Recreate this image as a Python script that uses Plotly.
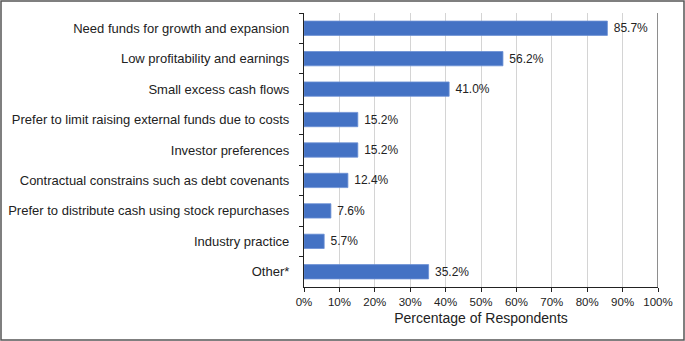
import plotly.graph_objects as go

categories = [
    "Need funds for growth and expansion",
    "Low profitability and earnings",
    "Small excess cash flows",
    "Prefer to limit raising external funds due to costs",
    "Investor preferences",
    "Contractual constrains such as debt covenants",
    "Prefer to distribute cash using stock repurchases",
    "Industry practice",
    "Other*",
]
values = [85.7, 56.2, 41.0, 15.2, 15.2, 12.4, 7.6, 5.7, 35.2]
labels = [f"\u00a0{v:.1f}%" for v in values]
x_ticks = list(range(0, 101, 10))
x_tick_text = [f"{t}%" for t in x_ticks]

W, H = 685, 341
L, R, T, B = 304, 27, 13, 54
pw, ph = W - L - R, H - T - B

fig = go.Figure(go.Bar(
    y=categories, x=values, orientation="h",
    marker=dict(color="#4472C4", line=dict(color="#6b8fd4", width=0.8)),
    width=0.47,
    text=labels, textposition="outside", cliponaxis=False,
    textfont=dict(family="Liberation Sans, Arial", size=12, color="#222"),
))

fig.update_layout(
    width=W, height=H,
    margin=dict(l=L, r=R, t=T, b=B, autoexpand=False),
    paper_bgcolor="white", plot_bgcolor="white",
    font=dict(family="Liberation Sans, Arial", size=13, color="#222"),
    showlegend=False,
    xaxis=dict(
        range=[0, 100], tickvals=x_ticks, ticktext=x_tick_text,
        showgrid=True, gridcolor="#d4d4d4", gridwidth=1,
        showline=True, linecolor="#222", linewidth=1.2,
        ticks="outside", ticklen=4, tickcolor="#222",
        tickfont=dict(size=11.5),
        title=dict(text="Percentage of Respondents", font=dict(size=14), standoff=6),
        zeroline=False, automargin=False,
    ),
    yaxis=dict(
        autorange="reversed", categoryorder="array", categoryarray=categories,
        showline=True, linecolor="#222", linewidth=1.2,
        ticks="outside", ticklen=4, tickcolor="#222", tickson="boundaries",
        ticklabelstandoff=11,
        tickfont=dict(size=13),
        showgrid=False, automargin=False,
    ),
    shapes=[
        dict(type="line", xref="x", yref="paper", x0=100, x1=100, y0=0, y1=1,
             line=dict(color="#444", width=1.2)),
        dict(type="rect", xref="paper", yref="paper",
             x0=-(L - 1) / pw, x1=1 + (R - 1) / pw,
             y0=-(B - 1) / ph, y1=1 + (T - 1) / ph,
             line=dict(color="#555", width=1.5), layer="below"),
    ],
)

fig.write_html(
    "out.html",
    config={"displayModeBar": False},
    post_script="document.body.style.margin='0';document.body.style.padding='0';",
)
